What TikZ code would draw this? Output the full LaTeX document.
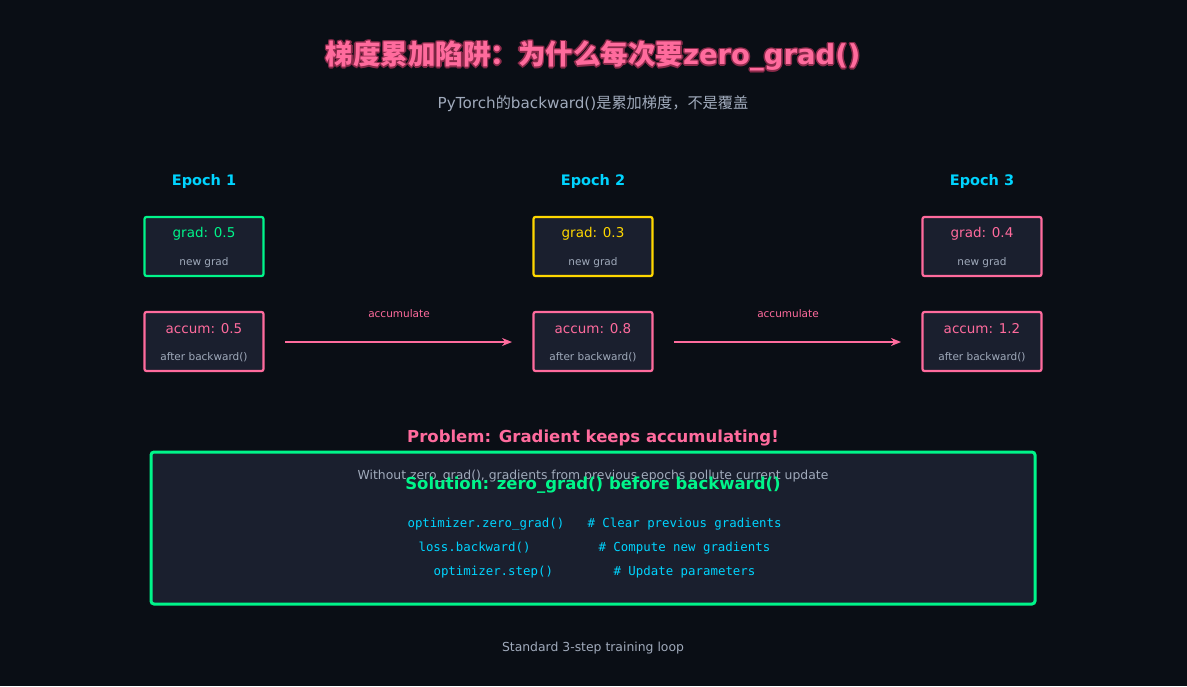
\documentclass[tikz,border=0pt]{standalone}
\usepackage{fontspec}
\setmainfont{DejaVu Sans}
\setmonofont{DejaVu Sans Mono}
\newfontfamily\cjk{Noto Sans CJK SC}
\usetikzlibrary{arrows.meta}
\definecolor{bg}{HTML}{0A0E15}
\definecolor{boxbg}{HTML}{1A1F2E}
\definecolor{pink}{HTML}{FF6B9D}
\definecolor{green}{HTML}{00F58A}
\definecolor{yel}{HTML}{FFD700}
\definecolor{cyan}{HTML}{00D4FF}
\definecolor{gray}{HTML}{A0AABB}
\definecolor{glow}{HTML}{8A2A4A}
\tikzset{
 gbox/.style={draw=#1,fill=boxbg,line width=2.2pt,rounded corners=2pt,minimum width=119pt,minimum height=59pt},
 big/.style={text=#1,font=\fontsize{13.5}{15}\selectfont,anchor=center},
 small/.style={text=gray,font=\fontsize{10.5}{12}\selectfont},
 epoch/.style={text=cyan,font=\bfseries\fontsize{14.5}{16}\selectfont},
 arr/.style={draw=pink,line width=2pt,-{Stealth[length=10pt,width=8pt]}},
 code/.style={text=cyan,font=\ttfamily\fontsize{12.4}{14}\selectfont,anchor=west},
 ttlfont/.style={font=\bfseries\fontsize{27.5}{32}\selectfont},
}
\newcommand{\ttltext}{{\cjk 梯度累加陷阱：为什么每次要}zero\_grad()}
\begin{document}
\begin{tikzpicture}[x=1pt,y=-1pt]
\fill[bg] (0,0) rectangle (1187,686);
\useasboundingbox (0,0) rectangle (1187,686);
\foreach \dx/\dy in {-1.5/0,1.5/0,0/-1.5,0/1.5,-1/-1,1/1,-1/1,1/-1}
  \node[text=glow,ttlfont] at (593+\dx,56+\dy) {\ttltext};
\node[text=pink,ttlfont] (title) at (593,56) {\ttltext};
\node[text=gray,font=\fontsize{15.2}{17}\selectfont] (sub) at (593,104) {PyTorch{\cjk 的}backward(){\cjk 是累加梯度，不是覆盖}};
\foreach \n/\x/\gc/\gv/\av in {1/204/green/0.5/0.5, 2/593/yel/0.3/0.8, 3/982/pink/0.4/1.2}{
  \node[epoch] (e\n) at (\x,181) {Epoch \n};
  \node[gbox=\gc] (g\n) at (\x,246.5) {};
  \node[big=\gc] (gt\n) at (\x,233.5) {grad: \gv};
  \node[small] (gs\n) at (\x,262.5) {new grad};
  \node[gbox=pink] (a\n) at (\x,341.5) {};
  \node[big=pink] (at\n) at (\x,328.5) {accum: \av};
  \node[small] (as\n) at (\x,357) {after backward()};
}
\coordinate (s1) at (285,342); \coordinate (t1) at (512,342);
\coordinate (s2) at (674,342); \coordinate (t2) at (901,342);
\draw[arr] (s1) -- (t1);
\draw[arr] (s2) -- (t2);
\node[text=pink,font=\fontsize{10.5}{12}\selectfont] (l1) at (399,314) {accumulate};
\node[text=pink,font=\fontsize{10.5}{12}\selectfont] (l2) at (788,314) {accumulate};
\node[text=pink,font=\bfseries\fontsize{16.5}{18}\selectfont] (prob) at (593,438) {Problem: Gradient keeps accumulating!};
\node[draw=green,fill=boxbg,line width=3pt,rounded corners=3pt,minimum width=884pt,minimum height=152pt] (sol) at (593,528) {};
\node[text=gray,font=\fontsize{12.4}{14}\selectfont] (warn) at (593,476) {Without zero\_grad(), gradients from previous epochs pollute current update};
\node[text=green,font=\bfseries\fontsize{16.5}{18}\selectfont] (solt) at (593,485) {Solution: zero\_grad() before backward()};
\node[code] (c1) at (404,524) {optimizer.zero\_grad()};
\node[code] (k1) at (584,524) {\# Clear previous gradients};
\node[code] (c2) at (415,548) {loss.backward()};
\node[code] (k2) at (595,548) {\# Compute new gradients};
\node[code] (c3) at (430,572) {optimizer.step()};
\node[code] (k3) at (610,572) {\# Update parameters};
\node[text=gray,font=\fontsize{12.4}{14}\selectfont] (foot) at (593,648) {Standard 3-step training loop};
\end{tikzpicture}
\end{document}
